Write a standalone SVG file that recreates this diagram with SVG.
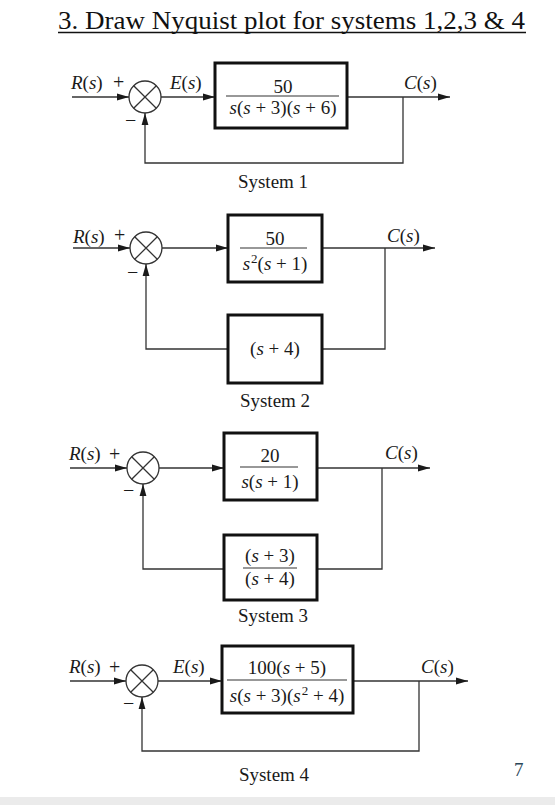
<svg xmlns="http://www.w3.org/2000/svg" width="555" height="805" viewBox="0 0 555 805">
<defs>
<marker id="arr" markerUnits="userSpaceOnUse" markerWidth="14" markerHeight="10" refX="12" refY="4" orient="auto">
<path d="M0,0.6 L12,4 L0,7.4 Z" fill="#1a1a1a"/>
</marker>
<style>
.t{font-family:"Liberation Serif","Times New Roman",serif;font-size:19px;fill:#1a1a1a}
.c{text-anchor:middle}
.i{font-style:italic}
.ln{fill:none;stroke:#333;stroke-width:1.3}
.a{marker-end:url(#arr)}
.blk{fill:#fff;stroke:#111;stroke-width:3}
.sum{fill:#fff;stroke:#333;stroke-width:1.3}
.fr{stroke:#333;stroke-width:1.2}
.pm{font-size:20px}
</style>
</defs>
<rect width="555" height="805" fill="#fff"/>
<rect x="0" y="797" width="555" height="8" fill="#ebebeb"/>
<g id="title">
<text x="58" y="29" font-family="Liberation Serif, Times New Roman, serif" font-size="26" fill="#111" textLength="467" lengthAdjust="spacingAndGlyphs">3. Draw Nyquist plot for systems 1,2,3 &amp; 4</text>
<line x1="58" y1="32.5" x2="526" y2="32.5" stroke="#111" stroke-width="1.5"/>
</g>

<g id="connectors">
<!-- System 1 -->
<path class="ln a" d="M72 97 H129"/>
<path class="ln a" d="M161 97 H215"/>
<path class="ln a" d="M347 97 H450"/>
<path class="ln a" d="M403 97 V163 H145 V113"/>
<!-- System 2 -->
<path class="ln a" d="M73 248 H130"/>
<path class="ln a" d="M162 248 H228"/>
<path class="ln a" d="M322 248 H435"/>
<path class="ln" d="M385 248 V349 H322"/>
<path class="ln a" d="M228 349 H146 V264"/>
<!-- System 3 -->
<path class="ln a" d="M70 468 H127"/>
<path class="ln a" d="M159 468 H224"/>
<path class="ln a" d="M317 468 H430"/>
<path class="ln" d="M382 468 V569 H317"/>
<path class="ln a" d="M224 569 H143 V484"/>
<!-- System 4 -->
<path class="ln a" d="M70 681 H126"/>
<path class="ln a" d="M158 681 H222"/>
<path class="ln a" d="M353 681 H468"/>
<path class="ln a" d="M419 681 V751 H142 V697"/>
</g>

<!-- System 1 -->
<g id="s1-sum">
<circle class="sum" cx="145" cy="97" r="16"/>
<path class="ln" d="M133.7 85.7 L156.3 108.3 M156.3 85.7 L133.7 108.3"/>
<text class="t pm" x="113" y="89">+</text>
<text class="t pm" x="125" y="127">−</text>
</g>
<g id="s1-labels">
<text class="t" x="71" y="89"><tspan class="i">R</tspan>(<tspan class="i">s</tspan>)</text>
<text class="t" x="170" y="89"><tspan class="i">E</tspan>(<tspan class="i">s</tspan>)</text>
<text class="t" x="404" y="89"><tspan class="i">C</tspan>(<tspan class="i">s</tspan>)</text>
<text class="t c" x="273" y="188">System 1</text>
</g>
<g id="s1-G">
<rect class="blk" x="215" y="63" width="132" height="65"/>
<text class="t c" x="283" y="93">50</text>
<line class="fr" x1="226" y1="96" x2="339" y2="96"/>
<text class="t c" x="283" y="114"><tspan class="i">s</tspan>(<tspan class="i">s</tspan> + 3)(<tspan class="i">s</tspan> + 6)</text>
</g>

<!-- System 2 -->
<g id="s2-sum">
<circle class="sum" cx="146" cy="248" r="16"/>
<path class="ln" d="M134.7 236.7 L157.3 259.3 M157.3 236.7 L134.7 259.3"/>
<text class="t pm" x="114" y="242">+</text>
<text class="t pm" x="127" y="279">−</text>
</g>
<g id="s2-labels">
<text class="t" x="73" y="243"><tspan class="i">R</tspan>(<tspan class="i">s</tspan>)</text>
<text class="t" x="387" y="242"><tspan class="i">C</tspan>(<tspan class="i">s</tspan>)</text>
<text class="t c" x="275" y="407">System 2</text>
</g>
<g id="s2-G">
<rect class="blk" x="228" y="215" width="94" height="67"/>
<text class="t c" x="275" y="245">50</text>
<line class="fr" x1="240" y1="248" x2="307" y2="248"/>
<text class="t c" x="275" y="270"><tspan class="i">s</tspan><tspan font-size="13" dx="1" dy="-7">2</tspan><tspan dy="7">(</tspan><tspan class="i">s</tspan> + 1)</text>
</g>
<g id="s2-H">
<rect class="blk" x="228" y="315" width="94" height="68"/>
<text class="t c" x="275" y="355">(<tspan class="i">s</tspan> + 4)</text>
</g>

<!-- System 3 -->
<g id="s3-sum">
<circle class="sum" cx="143" cy="468" r="16"/>
<path class="ln" d="M131.7 456.7 L154.3 479.3 M154.3 456.7 L131.7 479.3"/>
<text class="t pm" x="109" y="461">+</text>
<text class="t pm" x="123" y="497">−</text>
</g>
<g id="s3-labels">
<text class="t" x="69" y="460"><tspan class="i">R</tspan>(<tspan class="i">s</tspan>)</text>
<text class="t" x="385" y="459"><tspan class="i">C</tspan>(<tspan class="i">s</tspan>)</text>
<text class="t c" x="273" y="622">System 3</text>
</g>
<g id="s3-G">
<rect class="blk" x="224" y="433" width="93" height="67"/>
<text class="t c" x="270" y="462">20</text>
<line class="fr" x1="240" y1="467" x2="298" y2="467"/>
<text class="t c" x="270" y="488"><tspan class="i">s</tspan>(<tspan class="i">s</tspan> + 1)</text>
</g>
<g id="s3-H">
<rect class="blk" x="224" y="535" width="93" height="65"/>
<text class="t c" x="270" y="562">(<tspan class="i">s</tspan> + 3)</text>
<line class="fr" x1="243" y1="568" x2="297" y2="568"/>
<text class="t c" x="270" y="585">(<tspan class="i">s</tspan> + 4)</text>
</g>

<!-- System 4 -->
<g id="s4-sum">
<circle class="sum" cx="142" cy="681" r="16"/>
<path class="ln" d="M130.7 669.7 L153.3 692.3 M153.3 669.7 L130.7 692.3"/>
<text class="t pm" x="109" y="674">+</text>
<text class="t pm" x="123" y="710">−</text>
</g>
<g id="s4-labels">
<text class="t" x="69" y="673"><tspan class="i">R</tspan>(<tspan class="i">s</tspan>)</text>
<text class="t" x="173" y="673"><tspan class="i">E</tspan>(<tspan class="i">s</tspan>)</text>
<text class="t" x="421" y="673"><tspan class="i">C</tspan>(<tspan class="i">s</tspan>)</text>
<text class="t c" x="274" y="781">System 4</text>
</g>
<g id="s4-G">
<rect class="blk" x="222" y="646" width="131" height="67"/>
<text class="t c" x="287" y="674">100(<tspan class="i">s</tspan> + 5)</text>
<line class="fr" x1="227" y1="680" x2="347" y2="680"/>
<text class="t c" x="287" y="702"><tspan class="i">s</tspan>(<tspan class="i">s</tspan> + 3)(<tspan class="i">s</tspan><tspan font-size="13" dx="1" dy="-7">2</tspan><tspan dy="7"> + 4)</tspan></text>
</g>

<g id="page-number">
<text x="514" y="776" font-family="Liberation Serif, Times New Roman, serif" font-size="19" fill="#2a4658">7</text>
</g>
</svg>
